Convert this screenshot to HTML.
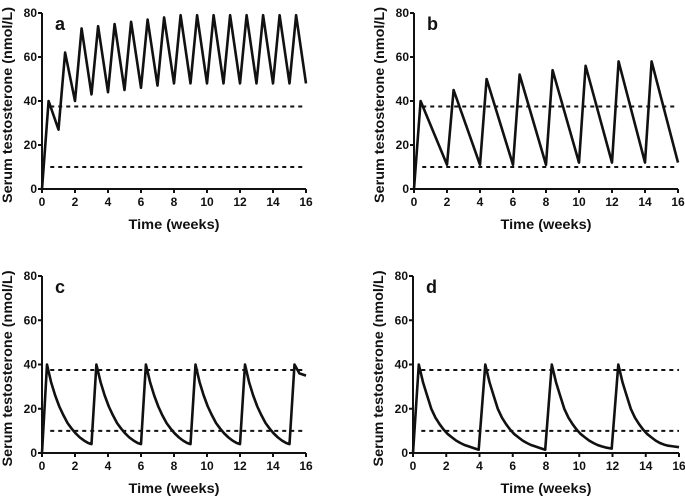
<!DOCTYPE html>
<html><head><meta charset="utf-8"><style>
body{margin:0;background:#fff;width:685px;height:496px;overflow:hidden}
svg{display:block}
text{font-family:"Liberation Sans",Arial,sans-serif;font-weight:bold;fill:#111}
</style></head><body>
<svg id="chart" width="685" height="496"></svg>
<script>
const xTicks=[0,2,4,6,8,10,12,14,16];
const yTicks=[0,20,40,60,80];
const refLines=[37.5,10];
const aT=[0,0.4,1,1.4,2,2.4,3,3.4,4,4.4,5,5.4,6,6.4,7,7.4,8,8.4,9,9.4,10,10.4,11,11.4,12,12.4,13,13.4,14,14.4,15,15.4,16];
const aV=[0,40,27,62,40,73,43,74,44,75,45,76,46,77,47,78,48,79,48,79,48,79,48,79,48,79,48,79,48,79,48,79,48];
const bT=[0,0.4,2,2.4,4,4.4,6,6.4,8,8.4,10,10.4,12,12.4,14,14.4,16];
const bV=[0,40,11,45,11,50,11,52,11,54,12,56,12,58,12,58,12];
const cT=[0,0.3,0.55,0.8,1.05,1.3,1.55,1.8,2.05,2.3,2.55,2.8,3.0,3.3,3.55,3.8,4.05,4.3,4.55,4.8,5.05,5.3,5.55,5.8,6.0,6.3,6.55,6.8,7.05,7.3,7.55,7.8,8.05,8.3,8.55,8.8,9.0,9.3,9.55,9.8,10.05,10.3,10.55,10.8,11.05,11.3,11.55,11.8,12.0,12.3,12.55,12.8,13.05,13.3,13.55,13.8,14.05,14.3,14.55,14.8,15.0,15.3,15.6,16];
const cV=[0,40,32,26,21,17,13.5,11,8.8,7,5.6,4.5,4,40,32,26,21,17,13.5,11,8.8,7,5.6,4.5,4,40,32,26,21,17,13.5,11,8.8,7,5.6,4.5,4,40,32,26,21,17,13.5,11,8.8,7,5.6,4.5,4,40,32,26,21,17,13.5,11,8.8,7,5.6,4.5,4,40,36,35];
const dT=[0,0.35,0.6,0.85,1.1,1.35,1.6,1.85,2.1,2.35,2.6,2.85,3.1,3.35,3.65,3.95,4.35,4.6,4.85,5.1,5.35,5.6,5.85,6.1,6.35,6.6,6.85,7.1,7.35,7.65,7.95,8.35,8.6,8.85,9.1,9.35,9.6,9.85,10.1,10.35,10.6,10.85,11.1,11.35,11.65,11.95,12.35,12.6,12.85,13.1,13.35,13.6,13.85,14.1,14.35,14.6,14.85,15.1,15.35,15.65,16];
const dV=[0,40,32,26,20,16,13,10.5,8.5,7,5.6,4.5,3.6,3,2.2,1.5,40,32,26,20,16,13,10.5,8.5,7,5.6,4.5,3.6,3,2.2,1.5,40,32,26,20,16,13,10.5,8.5,7,5.6,4.5,3.6,3,2.4,2,40,32,26,20,16,13,10.5,8.5,7,5.6,4.5,3.8,3.3,3,2.6];
const panels=[
 {id:'a',x0:42,x1:306,y0:189,y1:13,t:aT,v:aV},
 {id:'b',x0:414,x1:678,y0:189,y1:13,t:bT,v:bV},
 {id:'c',x0:42,x1:306,y0:453,y1:276,t:cT,v:cV},
 {id:'d',x0:413,x1:679,y0:453,y1:276,t:dT,v:dV}];
const svg=document.getElementById('chart');
const NS='http://www.w3.org/2000/svg';
function mk(tag,attrs,parent){const e=document.createElementNS(NS,tag);for(const k in attrs)e.setAttribute(k,attrs[k]);parent.appendChild(e);return e;}
panels.forEach(p=>{
 const sx=t=>p.x0+(p.x1-p.x0)*t/16, sy=v=>p.y0+(p.y1-p.y0)*v/80;
 const g=mk('g',{},svg);
 
 
 refLines.forEach(r=>{
  const l=mk('line',{x1:sx(0.5),x2:sx(16),y1:sy(r),y2:sy(r),stroke:'#111','stroke-width':2,'stroke-dasharray':'4,4'},g);
  
  
 });
 const ax=mk('path',{d:`M${p.x0},${p.y1}V${p.y0}H${p.x1}`,fill:'none',stroke:'#111','stroke-width':2},g);
 
 
 xTicks.forEach(t=>{
  mk('line',{x1:sx(t),x2:sx(t),y1:p.y0,y2:p.y0+4,stroke:'#111','stroke-width':2},g);
  const tx=mk('text',{x:sx(t),y:p.y0+17,'text-anchor':'middle','font-size':12},g);
  tx.textContent=t;
  
  
 });
 yTicks.forEach(v=>{
  mk('line',{x1:p.x0-4,x2:p.x0,y1:sy(v),y2:sy(v),stroke:'#111','stroke-width':2},g);
  const tx=mk('text',{x:p.x0-5,y:sy(v)+4,'text-anchor':'end','font-size':12},g);
  tx.textContent=v;
  
  
 });
 const xt=mk('text',{x:(p.x0+p.x1)/2,y:p.y0+40,'text-anchor':'middle','font-size':14,textLength:91,lengthAdjust:'spacingAndGlyphs'},g);
 xt.textContent='Time (weeks)';
 
 
 const yx=p.x0-30, yc=(p.y0+p.y1)/2+4;
 const yt=mk('text',{x:yx,y:yc,'text-anchor':'middle','font-size':14,textLength:196,lengthAdjust:'spacingAndGlyphs',transform:`rotate(-90 ${yx} ${yc})`},g);
 yt.textContent='Serum testosterone (nmol/L)';
 
 
 const lb=mk('text',{x:p.x0+13,y:p.y1+17,'font-size':18},g);
 lb.textContent=p.id;
 
 
 const d=p.t.map((t,i)=>(i?'L':'M')+sx(t).toFixed(1)+','+sy(p.v[i]).toFixed(1)).join('');
 const ln=mk('path',{d:d,fill:'none',stroke:'#111','stroke-width':2.6,'stroke-linejoin':'round'},g);
 
 
});
</script>
</body></html>
